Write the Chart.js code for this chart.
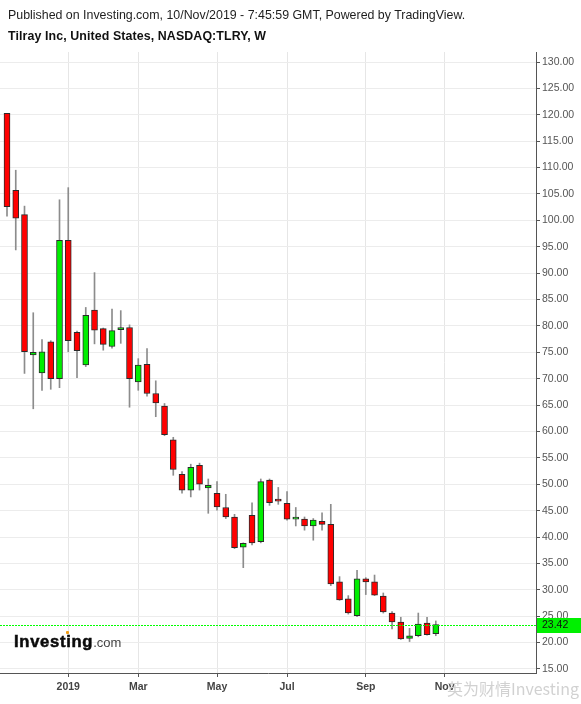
<!DOCTYPE html>
<html>
<head>
<meta charset="utf-8">
<script src="https://cdn.jsdelivr.net/npm/chart.js@4.4.0/dist/chart.umd.min.js"></script>
<style>
html,body{margin:0;padding:0;background:#fff;width:581px;height:704px;overflow:hidden;}
#wrap{position:relative;width:581px;height:704px;}
#c{position:absolute;left:0;top:0;}
.hdr{position:absolute;left:8px;font-family:"Liberation Sans",Arial,sans-serif;font-size:12.4px;color:#1e1e1e;white-space:nowrap;line-height:15px;}
#h1{top:8px;}
#h2{top:29px;font-weight:bold;color:#111;letter-spacing:0.1px;}
#logo{position:absolute;left:14px;top:632px;white-space:nowrap;font-family:"Liberation Sans",Arial,sans-serif;line-height:20px;}
#logo .a{font-size:16.6px;font-weight:bold;color:#0a0a0a;letter-spacing:0.7px;-webkit-text-stroke:0.5px #0a0a0a;}
#logo .b{font-size:13px;color:#444;}
#dot{position:absolute;left:66px;top:631px;width:3px;height:3px;background:#f39c12;border-radius:1px;}
#wm{position:absolute;left:447px;top:678px;font-family:"Noto Sans CJK SC","Liberation Sans",sans-serif;font-size:16px;color:rgba(190,190,190,0.7);white-space:nowrap;text-shadow:0 0 1px #fff;line-height:20px;}
</style>
</head>
<body>
<div id="wrap">
<canvas id="c" width="581" height="704"></canvas>
<div class="hdr" id="h1">Published on Investing.com, 10/Nov/2019 - 7:45:59 GMT, Powered by TradingView.</div>
<div class="hdr" id="h2">Tilray Inc, United States, NASDAQ:TLRY, W</div>
<div id="logo"><span class="a">Investing</span><span class="b">.com</span></div>
<div id="dot"></div>
<div id="wm">英为财情Investing</div>
</div>
<script>
// Weekly bars (week start dates)
const weeks = [
 '2018-11-19','2018-11-26','2018-12-03','2018-12-10','2018-12-17','2018-12-24','2018-12-31',
 '2019-01-07','2019-01-14','2019-01-21','2019-01-28','2019-02-04','2019-02-11','2019-02-18','2019-02-25',
 '2019-03-04','2019-03-11','2019-03-18','2019-03-25','2019-04-01','2019-04-08','2019-04-15','2019-04-22','2019-04-29',
 '2019-05-06','2019-05-13','2019-05-20','2019-05-27','2019-06-03','2019-06-10','2019-06-17','2019-06-24',
 '2019-07-01','2019-07-08','2019-07-15','2019-07-22','2019-07-29','2019-08-05','2019-08-12','2019-08-19','2019-08-26',
 '2019-09-02','2019-09-09','2019-09-16','2019-09-23','2019-09-30','2019-10-07','2019-10-14','2019-10-21','2019-10-28'
];
const opens  = [120.3,105.7,101.1,74.5,71.1,77.0,70.0,96.2,78.8,72.6,83.0,79.5,76.1,79.3,79.7,69.4,72.7,67.2,64.8,58.4,51.9,48.9,53.6,49.3,48.3,45.6,43.8,38.1,44.1,39.1,50.8,47.1,46.4,43.4,43.4,42.1,43.0,42.4,31.5,28.3,25.1,32.1,31.5,28.8,25.6,23.9,20.8,21.3,23.7,21.7];
const highs  = [120.3,109.5,102.7,82.5,77.4,77.2,103.9,106.2,79.0,83.5,90.1,79.6,83.2,82.9,80.2,73.8,75.7,69.6,65.3,58.9,52.4,53.8,54.0,51.0,50.5,48.1,44.3,38.9,46.5,51.0,51.0,49.4,48.6,45.6,43.8,43.5,44.6,46.2,32.5,28.9,33.7,32.3,32.8,29.4,25.9,24.8,22.7,25.6,24.8,24.1];
const lows   = [100.8,94.4,71.0,64.3,67.8,68.0,68.3,75.1,70.2,72.3,76.6,75.4,75.8,76.7,64.6,67.8,66.7,62.8,59.2,51.7,48.3,47.6,48.9,44.5,45.1,43.5,37.8,34.2,38.5,38.9,46.0,46.2,43.2,42.1,41.3,39.4,41.3,30.8,28.0,25.4,24.9,29.1,28.9,25.6,22.6,20.6,20.2,21.1,21.4,21.3];
const closes = [102.6,100.4,75.1,75.0,75.1,70.0,96.2,77.2,75.3,82.0,79.2,76.5,79.1,79.7,70.0,72.6,67.2,65.4,59.4,52.8,48.9,53.2,50.0,49.8,45.7,43.8,38.0,38.8,38.9,50.5,46.5,46.8,43.4,43.6,42.1,43.2,42.4,31.1,28.1,25.6,32.1,31.5,29.0,25.8,23.9,20.7,21.3,23.5,21.5,23.42];
// Time-axis labels and the week each label sits on
const tickLabels = ['2019','Mar','May','Jul','Sep','Nov'];
const tickWeeks  = ['2019-01-07','2019-03-04','2019-05-06','2019-07-01','2019-09-02','2019-11-04'];

const DAY = 864e5;
const t0 = Date.parse(weeks[0]);
const weekIndex = d => Math.round((Date.parse(d) - t0) / (7 * DAY));
const tickPos = tickWeeks.map(weekIndex);

const bodies = weeks.map((w, i) => ({x: weekIndex(w), y: [Math.min(opens[i], closes[i]), Math.max(opens[i], closes[i])]}));
const wicks  = weeks.map((w, i) => ({x: weekIndex(w), y: [lows[i], highs[i]]}));
const bodyColors = weeks.map((w, i) => closes[i] >= opens[i] ? '#00ee00' : '#ff0000');

const FONT = "'Liberation Sans', Arial, sans-serif";

const priceLine = {
  id: 'priceLine',
  afterDatasetsDraw(chart) {
    const {ctx, chartArea: a, scales: {y}} = chart;
    const v = closes[closes.length - 1];
    const py = Math.round(y.getPixelForValue(v));
    ctx.save();
    ctx.fillStyle = '#00ff00';
    for (let x = a.left; x < a.right; x += 3) {
      ctx.fillRect(x, py, 2, 1);
    }
    ctx.restore();
  },
  afterDraw(chart) {
    const {ctx, chartArea: a, scales: {y}} = chart;
    const v = closes[closes.length - 1];
    const py = Math.round(y.getPixelForValue(v));
    ctx.save();
    ctx.fillStyle = '#00f000';
    ctx.fillRect(a.right + 1, py - 7, 45, 15);
    ctx.fillStyle = '#111';
    ctx.font = '10.5px ' + FONT;
    ctx.textBaseline = 'middle';
    ctx.textAlign = 'left';
    ctx.fillText(v.toFixed(2), a.right + 6, py + 0.5);
    ctx.restore();
  }
};

new Chart(document.getElementById('c'), {
  type: 'bar',
  data: {
    datasets: [
      {data: wicks, backgroundColor: '#8c8c8c', borderWidth: 0, barThickness: 1, grouped: false, order: 2},
      {data: bodies, backgroundColor: bodyColors, borderColor: '#2a2a2a', borderWidth: 1, borderSkipped: false,
       barThickness: 6, minBarLength: 2, grouped: false, order: 1}
    ]
  },
  options: {
    responsive: false,
    animation: false,
    events: [],
    plugins: {legend: {display: false}, tooltip: {enabled: false}},
    layout: {padding: {top: 52, left: 0, right: 0, bottom: 0}},
    scales: {
      x: {
        type: 'linear', min: -0.8, max: 60.45, offset: false,
        grid: {color: '#e6e6e6', tickColor: '#555', tickLength: 4, offset: false},
        border: {color: '#555', width: 1},
        afterBuildTicks: s => { s.ticks = tickPos.map(v => ({value: v})); },
        afterFit: s => { s.height = 31; },
        ticks: {autoSkip: false, maxRotation: 0, padding: 4, color: '#444',
                font: {family: FONT, size: 10.5, weight: 'bold'},
                callback: (v, i) => tickLabels[i]}
      },
      y: {
        position: 'right', min: 14.24, max: 131.9, beginAtZero: false,
        grid: {color: '#ececec', tickColor: '#555', tickLength: 4},
        border: {color: '#555', width: 1},
        afterFit: s => { s.width = 45; },
        ticks: {stepSize: 5, includeBounds: false, padding: 2, color: '#555',
                font: {family: FONT, size: 10.5},
                callback: v => Number(v).toFixed(2)}
      }
    }
  },
  plugins: [priceLine]
});
</script>
</body>
</html>
